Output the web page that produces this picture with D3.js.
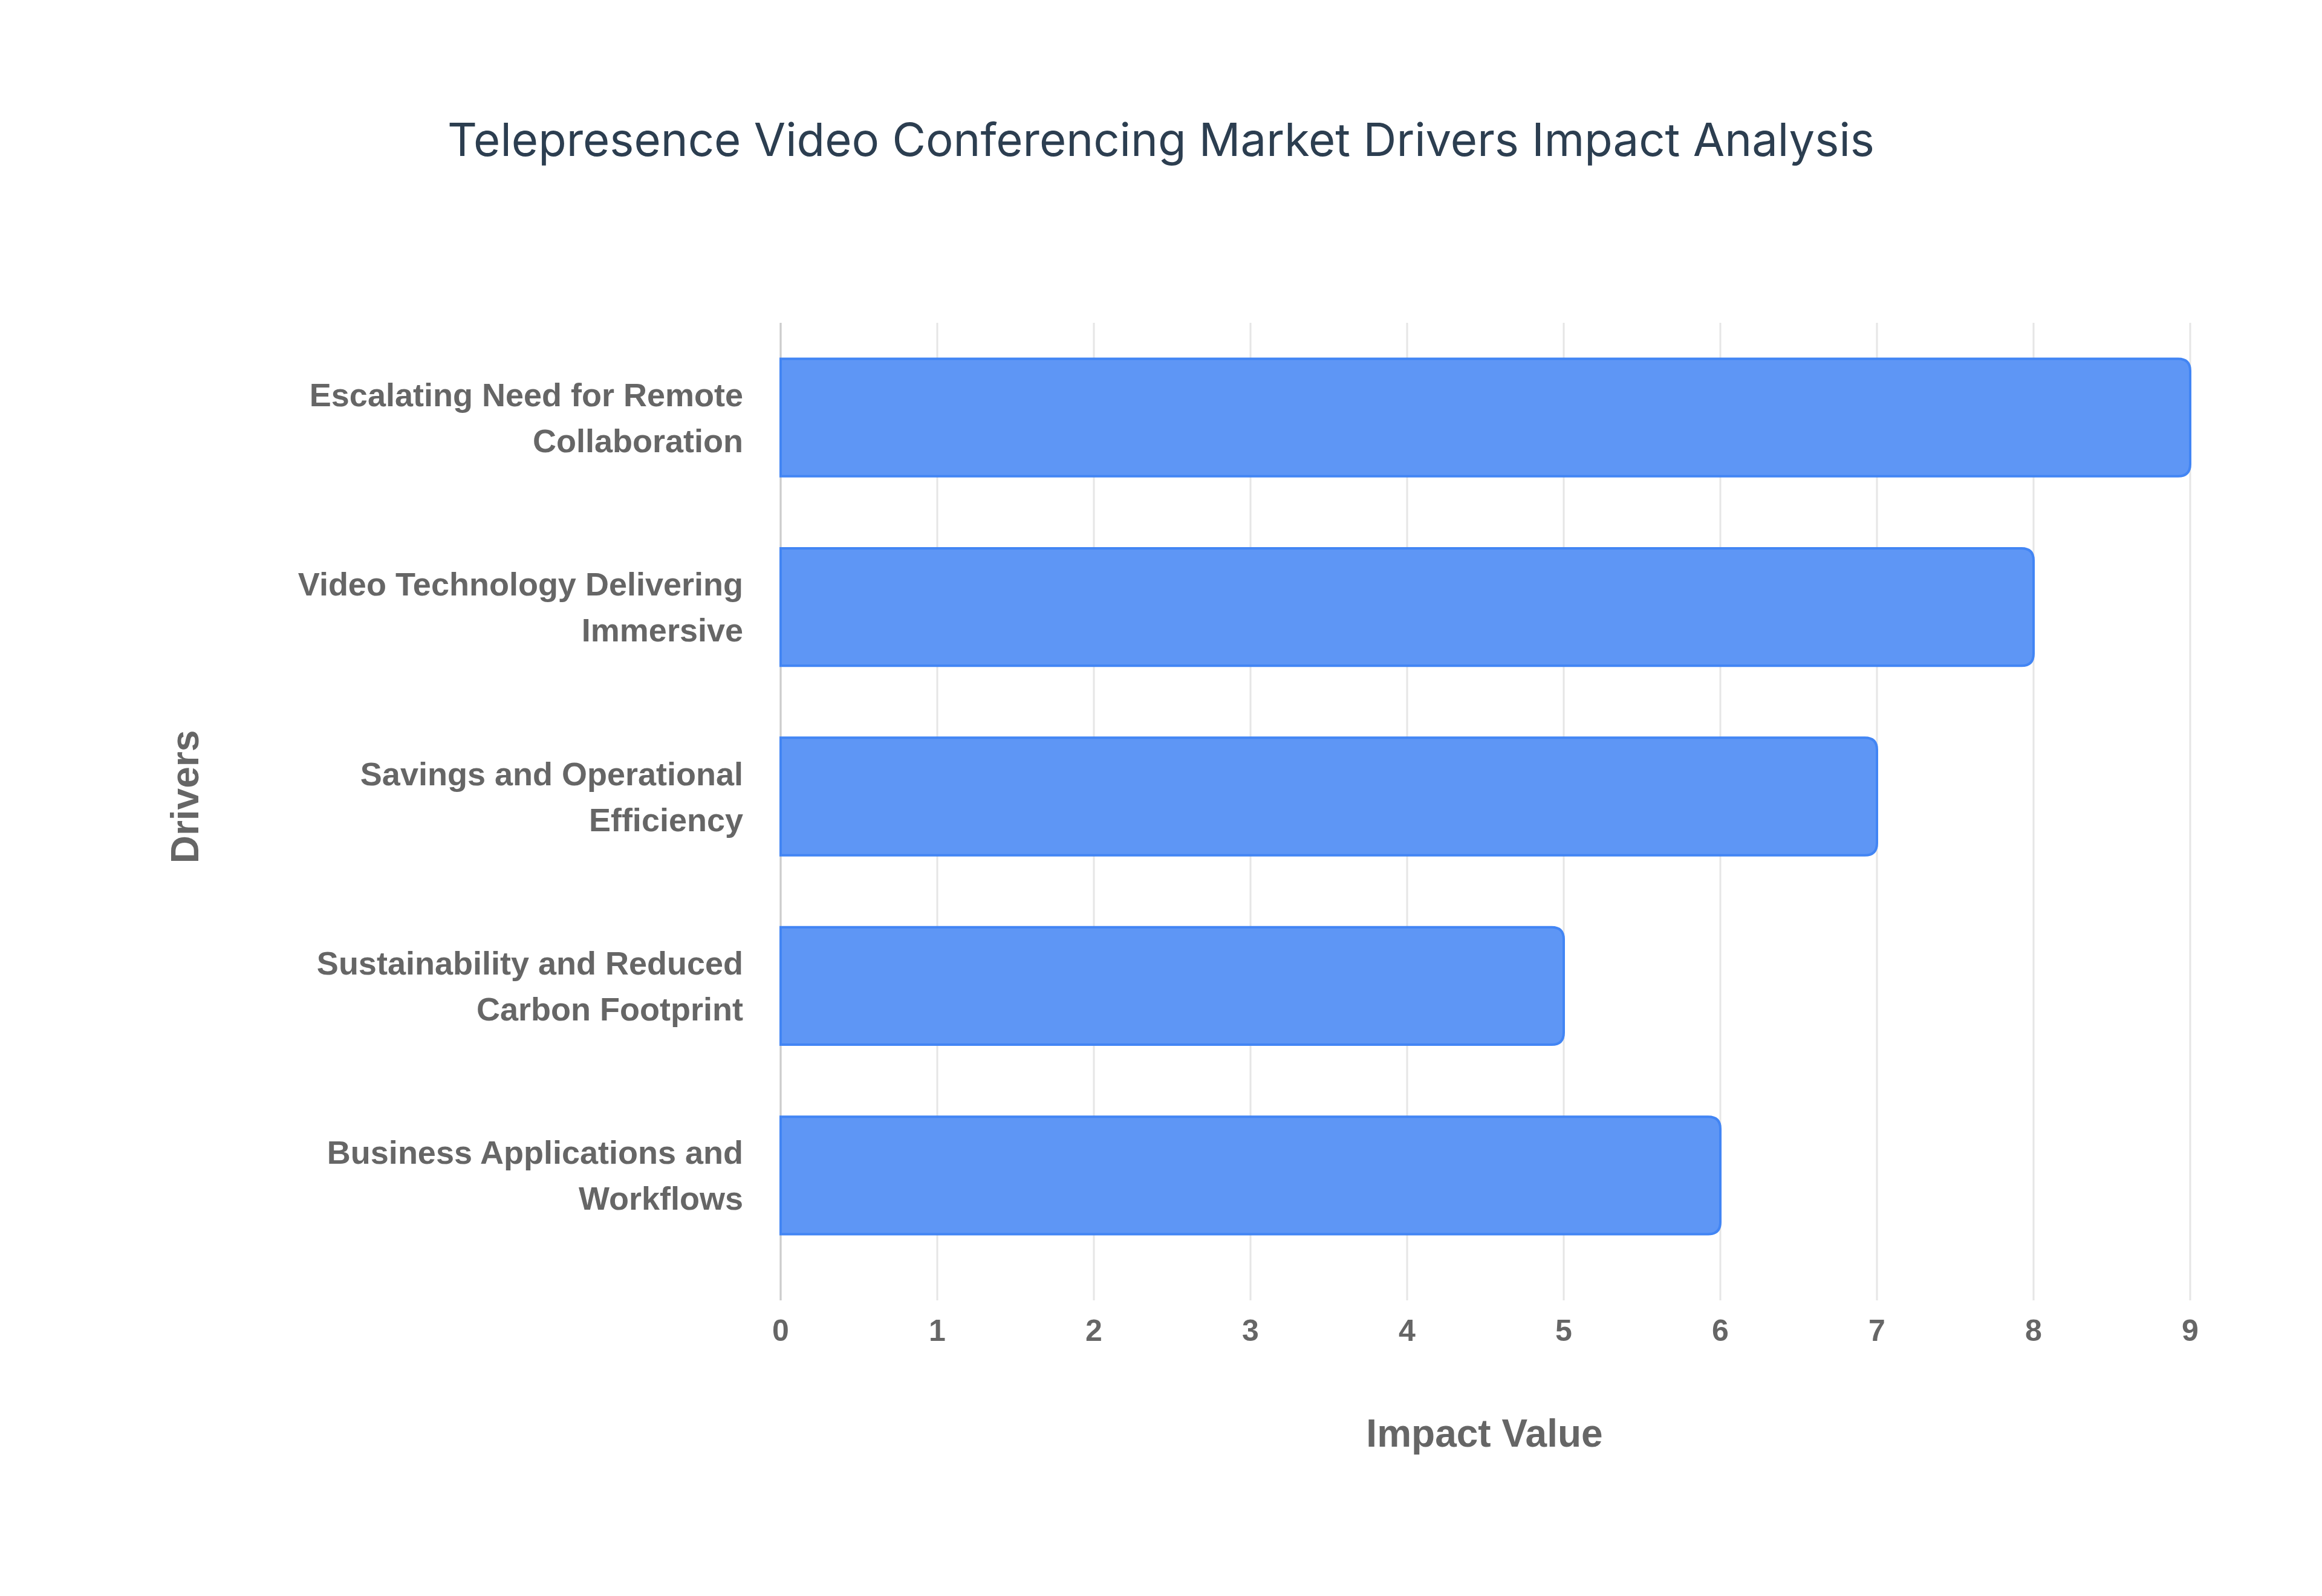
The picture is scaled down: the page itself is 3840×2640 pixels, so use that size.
<!DOCTYPE html>
<html>
<head>
<meta charset="utf-8">
<script src="https://cdn.jsdelivr.net/npm/d3@7"></script>
<style>
  body { margin: 0; background: #fff; }
  text { font-family: "Liberation Sans", Arial, sans-serif; }
</style>
</head>
<body>
<svg id="chart" width="3840" height="2640"></svg>
<script>
// chart data
var drivers = [
  ["Escalating Need for Remote", "Collaboration"],
  ["Video Technology Delivering", "Immersive"],
  ["Savings and Operational", "Efficiency"],
  ["Sustainability and Reduced", "Carbon Footprint"],
  ["Business Applications and", "Workflows"]
];
var impactValues = [9, 8, 7, 5, 6];
var xTicks = [0, 1, 2, 3, 4, 5, 6, 7, 8, 9];

var svg = d3.select("#chart");
var plotLeft = 1291, plotRight = 3622, plotTop = 534, plotBottom = 2101;

var x = d3.scaleLinear().domain([0, 9]).range([plotLeft, plotRight]);
var y = d3.scaleBand().domain(d3.range(drivers.length)).range([plotTop, plotBottom])
    .paddingInner(0.38).paddingOuter(0.19);

// grid
svg.append("g").selectAll("line").data(xTicks).enter().append("line")
    .attr("x1", function(d) { return x(d); }).attr("x2", function(d) { return x(d); })
    .attr("y1", plotTop).attr("y2", plotBottom + 50)
    .attr("stroke", "#e6e6e6").attr("stroke-width", 3);

svg.append("line").attr("x1", plotLeft).attr("x2", plotLeft).attr("y1", plotTop).attr("y2", plotBottom + 50)
    .attr("stroke", "#cccccc").attr("stroke-width", 3);

// bars with rounded right end
var r = 20;
svg.append("g").selectAll("path").data(impactValues).enter().append("path")
    .attr("d", function(d, i) {
      var x0 = x(0), x1 = x(d), y0 = y(i), h = y.bandwidth();
      return "M" + x0 + "," + y0 + "H" + (x1 - r) + "Q" + x1 + "," + y0 + " " + x1 + "," + (y0 + r) +
        "V" + (y0 + h - r) + "Q" + x1 + "," + (y0 + h) + " " + (x1 - r) + "," + (y0 + h) + "H" + x0 + "Z";
    })
    .attr("fill", "#5e96f5").attr("stroke", "#4285f4").attr("stroke-width", 4);

// category labels
var labels = svg.append("g").selectAll("text").data(drivers).enter().append("text")
    .attr("text-anchor", "end").attr("font-size", 54).attr("font-weight", "bold").attr("fill", "#666");
labels.each(function(d, i) {
  var cy = y(i) + y.bandwidth() / 2;
  d3.select(this).selectAll("tspan").data(d).enter().append("tspan")
    .attr("x", 1229).attr("y", function(t, j) { return cy - 38 + j * 76 + 19; })
    .text(function(t) { return t; });
});

// x tick labels
svg.append("g").selectAll("text").data(xTicks).enter().append("text")
    .attr("x", function(d) { return x(d); }).attr("y", 2218)
    .attr("text-anchor", "middle").attr("font-size", 50).attr("font-weight", "bold").attr("fill", "#666")
    .text(function(d) { return d; });

// axis titles
svg.append("text").attr("x", 2455).attr("y", 2393).attr("text-anchor", "middle")
    .attr("font-size", 64).attr("font-weight", "bold").attr("fill", "#666").text("Impact Value");
svg.append("text").attr("transform", "translate(328,1318) rotate(-90)").attr("text-anchor", "middle")
    .attr("font-size", 64).attr("font-weight", "bold").attr("fill", "#666").text("Drivers");

// title
svg.append("text").attr("x", 1920).attr("y", 258).attr("text-anchor", "middle")
    .attr("font-size", 76).attr("fill", "#2c3e50")
    .style("font-family", "Inter, 'Noto Sans', sans-serif").text("Telepresence Video Conferencing Market Drivers Impact Analysis");
</script>
</body>
</html>
